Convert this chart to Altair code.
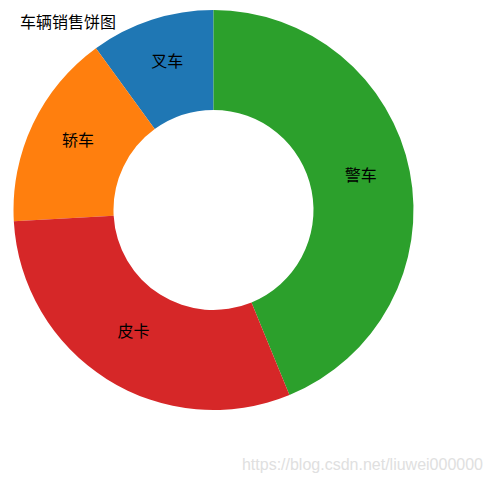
import altair as alt
import pandas as pd

categories = ["叉车", "轿车", "警车", "皮卡"]
values = [10, 15.9, 43.8, 30.3]
colors = ["#1f77b4", "#ff7f0e", "#2ca02c", "#d62728"]
title_text = "车辆销售饼图"
watermark_text = "https://blog.csdn.net/liuwei000000"

df = pd.DataFrame({"category": categories, "value": values})

FONT = "Noto Sans CJK SC"
CX, CY = 205.5, 202

base = alt.Chart(df).encode(
    theta=alt.Theta("value:Q", stack=True),
    order=alt.Order("value:Q", sort="descending"),
    color=alt.Color("category:N", scale=alt.Scale(domain=categories, range=colors), legend=None),
)

arcs = base.mark_arc(outerRadius=200, innerRadius=100, x=CX, y=CY)

labels = base.mark_text(
    radius=150, x=CX, y=CY, font=FONT, fontSize=16, baseline="alphabetic", align="center"
).encode(text="category:N", color=alt.value("black"))

title = alt.Chart(pd.DataFrame({"t": [title_text]})).mark_text(
    font=FONT, fontSize=16, align="left", baseline="alphabetic", color="black"
).encode(text="t:N", x=alt.value(12), y=alt.value(20))

watermark = alt.Chart(pd.DataFrame({"t": [watermark_text]})).mark_text(
    font="Liberation Sans", fontSize=16, align="right", baseline="alphabetic", color="#e0e0e0"
).encode(text="t:N", x=alt.value(475), y=alt.value(462))

chart = alt.layer(arcs, labels, title, watermark).properties(
    width=477, height=467, autosize=alt.AutoSizeParams(type="none"), padding=0
).configure_view(stroke=None)

chart.save("out.html", embed_options={"renderer": "svg", "actions": False})
